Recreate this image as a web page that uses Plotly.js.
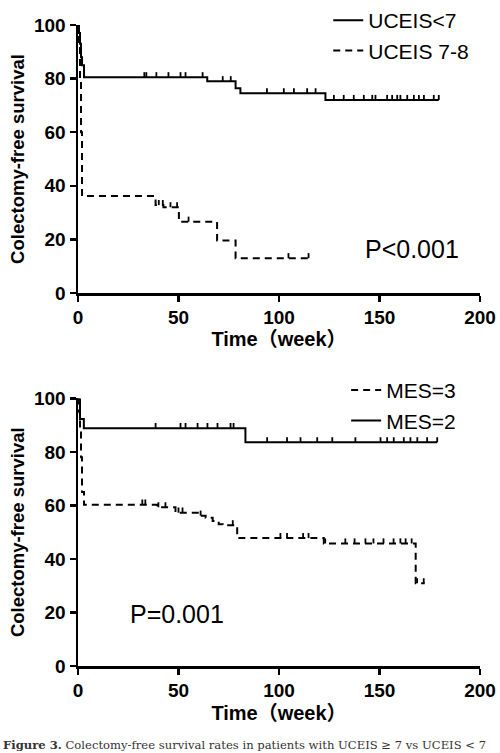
<!DOCTYPE html>
<html>
<head>
<meta charset="utf-8">
<script src="https://cdn.plot.ly/plotly-3.0.1.min.js"></script>
<style>html,body{margin:0;padding:0;background:#fff;}#chart{width:500px;height:753px;}</style>
</head>
<body>
<div id="chart"></div>
<script>
// ---- Data: top panel (UCEIS) ----
const ucLowTimes = [0, 0.5, 1, 1.5, 2, 3, 64.3, 78.4, 80.8, 123.1, 179.5];
const ucLowSurv  = [100, 97, 93, 88, 85, 80.5, 79.0, 76.4, 74.5, 72.0, 72.0];
const ucLowCens  = [33, 34, 39, 45, 51, 53.5, 62, 72, 76, 94, 102.4, 107.4, 114, 118.2, 127.3, 132.2, 137.2, 142.2, 146.4, 148, 153.8, 156.3, 158.8, 160.4, 163.8, 167.1, 169.6, 172.1, 177, 179.5];

const ucHighTimes = [0, 0.5, 1, 1.5, 2, 38.6, 42.5, 50.2, 69.2, 78.4, 114.7];
const ucHighSurv  = [100, 92, 80, 60, 36.2, 32.8, 32.0, 26.6, 19.6, 13.0, 13.0];
const ucHighCens  = [40.2, 42.2, 46, 49.3, 55, 104.7, 114.7];

// ---- Data: bottom panel (MES) ----
const mes2Times = [0, 1, 2.9, 83.3, 178.7];
const mes2Surv  = [100, 92.3, 88.9, 83.6, 83.6];
const mes2Cens  = [38.6, 51, 53.5, 59.5, 64.4, 69.4, 75.9, 77.4, 94.1, 104, 110.7, 119, 126.5, 138, 150.5, 153.8, 157.1, 162.1, 165.4, 168.8, 173.7, 178.7];

const mes3Times = [0, 0.5, 1, 1.5, 2, 3, 39.4, 48.5, 61, 63.5, 67, 70, 72, 79.2, 122.3, 168, 172.5];
const mes3Surv  = [100, 95, 88, 78, 65, 60.3, 59.3, 57.3, 56.2, 55.4, 54.2, 53.0, 52.6, 47.8, 45.8, 30.9, 30.9];
const mes3Cens  = [32, 33.5, 40, 43.5, 50, 52, 61, 77, 100.7, 104, 112, 114.7, 123, 133, 137.6, 143, 147, 152, 157, 160.4, 163, 166, 168.7, 172];

// ---- Axis ticks ----
const xTicks = [0, 50, 100, 150, 200];
const yTicks = [0, 20, 40, 60, 80, 100];

// step-function lookup for censor marks
function survAt(times, surv, t) {
  let v = surv[0];
  for (let i = 0; i < times.length; i++) { if (times[i] <= t) v = surv[i]; }
  return v;
}

const FONT = 'Liberation Sans, Arial, sans-serif';
const lineW = 2;

function stepTrace(x, y, name, dash, xa, ya, legend, rank) {
  return {x: x, y: y, type: 'scatter', mode: 'lines', name: name,
    line: {shape: 'hv', color: '#000', width: lineW, dash: dash},
    xaxis: xa, yaxis: ya, legend: legend, legendrank: rank, hoverinfo: 'skip', cliponaxis: false};
}
// censor marks: short upward ticks drawn as one-sided error bars
function censTrace(t, times, surv, xa, ya) {
  return {x: t, y: t.map(v => survAt(times, surv, v)), type: 'scatter', mode: 'markers',
    showlegend: false, hoverinfo: 'skip', xaxis: xa, yaxis: ya, cliponaxis: false,
    marker: {size: 0.1, color: 'rgba(0,0,0,0)'},
    error_y: {type: 'constant', symmetric: false, value: 1.9, valueminus: 0, width: 0, thickness: 1.8, color: '#000'}};
}

const DASH = '7px,5px';
const traces = [
  stepTrace(ucLowTimes, ucLowSurv, 'UCEIS&lt;7', 'solid', 'x', 'y', 'legend', 1),
  stepTrace(ucHighTimes, ucHighSurv, 'UCEIS 7-8', DASH, 'x', 'y', 'legend', 2),
  censTrace(ucLowCens, ucLowTimes, ucLowSurv, 'x', 'y'),
  censTrace(ucHighCens, ucHighTimes, ucHighSurv, 'x', 'y'),
  stepTrace(mes3Times, mes3Surv, 'MES=3', DASH, 'x2', 'y2', 'legend2', 1),
  stepTrace(mes2Times, mes2Surv, 'MES=2', 'solid', 'x2', 'y2', 'legend2', 2),
  censTrace(mes3Cens, mes3Times, mes3Surv, 'x2', 'y2'),
  censTrace(mes2Cens, mes2Times, mes2Surv, 'x2', 'y2')
];

function xAxis(anchor, standoff) {
  return {anchor: anchor, range: [0, 200], tickvals: xTicks, ticktext: xTicks.map(String),
    showgrid: false, zeroline: false, showline: true, linecolor: '#000', linewidth: 2.5,
    ticks: 'outside', ticklen: 6, tickwidth: 2.5, tickcolor: '#000',
    tickfont: {family: FONT, size: 19, color: '#000', weight: 'bold'},
    title: {text: '<b>Time（week）</b>', font: {family: 'Liberation Sans, Noto Sans CJK SC, sans-serif', size: 20, color: '#000'}, standoff: standoff},
    fixedrange: true};
}
function yAxis(anchor, domain) {
  return {anchor: anchor, domain: domain, range: [0, 100], tickvals: yTicks, ticktext: yTicks.map(String),
    showgrid: false, zeroline: false, showline: true, linecolor: '#000', linewidth: 2.5,
    ticks: 'outside', ticklen: 6, tickwidth: 2.5, tickcolor: '#000',
    tickfont: {family: FONT, size: 19, color: '#000', weight: 'bold'},
    title: {text: '<b>Colectomy-free survival</b>', font: {family: FONT, size: 18.5, color: '#000'}, standoff: 5},
    fixedrange: true};
}

const layout = {
  width: 500, height: 753,
  margin: {l: 78, r: 20, t: 0, b: 87},
  paper_bgcolor: '#fff', plot_bgcolor: '#fff',
  showlegend: true,
  xaxis: xAxis('y', 2),
  yaxis: yAxis('x', [0.560, 0.9625]),
  xaxis2: xAxis('y2', 6),
  yaxis2: yAxis('x2', [0, 0.4017]),
  legend: {x: 0.6225, xanchor: 'left', y: 1, yanchor: 'top', bgcolor: 'rgba(0,0,0,0)',
    font: {family: FONT, size: 21, color: '#000'}, itemwidth: 30, tracegroupgap: 0},
  legend2: {x: 0.667, xanchor: 'left', y: 0.4445, yanchor: 'top', bgcolor: 'rgba(0,0,0,0)',
    font: {family: FONT, size: 21, color: '#000'}, itemwidth: 30, tracegroupgap: 0},
  annotations: [
    {text: 'P&lt;0.001', xref: 'x', yref: 'y', x: 142, y: 16.4, xanchor: 'left', yanchor: 'middle',
      showarrow: false, font: {family: FONT, size: 25, color: '#000'}},
    {text: 'P=0.001', xref: 'x2', yref: 'y2', x: 25, y: 19.4, xanchor: 'left', yanchor: 'middle',
      showarrow: false, font: {family: FONT, size: 25, color: '#000'}},
    {text: '<b>Figure 3.</b> Colectomy-free survival rates in patients with UCEIS ≥ 7 vs UCEIS &lt; 7',
      xref: 'paper', yref: 'paper', x: -0.1915, y: -0.1186, xanchor: 'left', yanchor: 'middle',
      showarrow: false, font: {family: 'DejaVu Serif, serif', size: 11.6, color: '#333'}}
  ]
};

Plotly.newPlot('chart', traces, layout, {staticPlot: true, displayModeBar: false});
</script>
</body>
</html>
